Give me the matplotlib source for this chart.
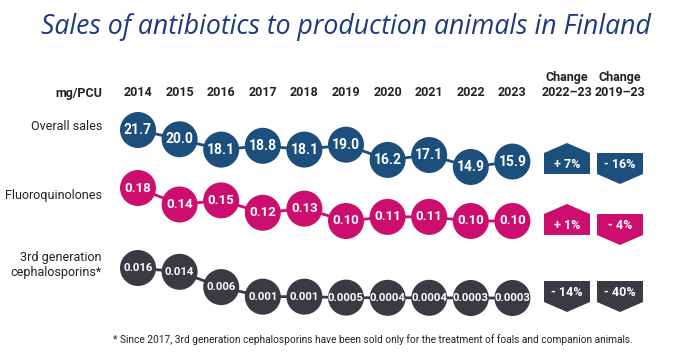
import matplotlib
matplotlib.use("Agg")
import matplotlib.pyplot as plt
from matplotlib.patches import Circle, Polygon

years = [2014, 2015, 2016, 2017, 2018, 2019, 2020, 2021, 2022, 2023]
overall = [21.7, 20.0, 18.1, 18.8, 18.1, 19.0, 16.2, 17.1, 14.9, 15.9]
fluoro = [0.18, 0.14, 0.15, 0.12, 0.13, 0.10, 0.11, 0.11, 0.10, 0.10]
cephalo = [0.016, 0.014, 0.006, 0.001, 0.001, 0.0005, 0.0004, 0.0004, 0.0003, 0.0003]
change_22_23 = [7, 1, -14]
change_19_23 = [-16, -4, -40]
row_labels = ["Overall sales", "Fluoroquinolones", "3rd generation\ncephalosporins*"]
change_headers = ["Change\n2022\u201323", "Change\n2019\u201323"]

BLUE = "#1d4f7c"
PINK = "#cc0f6e"
DARK = "#3b3a43"
NARROW = ["Liberation Sans Narrow", "Roboto", "DejaVu Sans"]

fig = plt.figure(figsize=(6.8, 3.58), dpi=100)
ax = fig.add_axes([0, 0, 1, 1])
ax.set_xlim(0, 680)
ax.set_ylim(358, 0)
ax.axis("off")

ax.text(346, 27, "Sales of antibiotics to production animals in Finland",
        ha="center", va="center", fontsize=19.2, style="italic",
        family=["Open Sans", "DejaVu Sans"], color="#1c3a7c")

# column layout
x0, dx = 138, 41.6
xs = [x0 + i * dx for i in range(len(years))]
xc = [567, 620]

ax.text(102, 93, "mg/PCU", ha="right", va="center", fontsize=9,
        fontweight="bold", family=NARROW, color="#222222")
for x, yr in zip(xs, years):
    ax.text(x, 93, str(yr), ha="center", va="center", fontsize=9,
            fontweight="bold", family=NARROW, color="#222222")
for x, h in zip(xc, change_headers):
    ax.text(x, 85, h, ha="center", va="center", fontsize=9,
            fontweight="bold", family=NARROW, color="#222222", linespacing=1.25)

rows = [
    (overall, "{:.1f}", BLUE, 130, 37, 127, 153, 10),
    (fluoro, "{:.2f}", PINK, 188, 33, 195, 214, 9.5),
    (cephalo, "{:g}", DARK, 268, 30, 265, 281, 8.2),
]

r = 18
for i, (vals, fmt, col, ytop, span, ylab, boxtop, fs) in enumerate(rows):
    vmax, vmin = max(vals), min(vals)
    ys = [ytop + (vmax - v) / (vmax - vmin) * span for v in vals]
    ax.plot(xs, ys, color=col, lw=2, zorder=1, solid_capstyle="butt")
    for x, y, v in zip(xs, ys, vals):
        ax.add_patch(Circle((x, y), r, facecolor=col, edgecolor="none", zorder=2))
        ax.text(x, y, fmt.format(v), ha="center", va="center", color="white",
                fontsize=fs, fontweight="bold", family=NARROW, zorder=3)
    ax.text(102, ylab, row_labels[i], ha="right", va="center", fontsize=9,
            family=NARROW, color="#222222", linespacing=1.15)

    # change boxes
    for x, c in zip(xc, [change_22_23[i], change_19_23[i]]):
        hw, h, tip = 23, 21, 10
        top, bot = boxtop, boxtop + h
        if c > 0:
            pts = [(x - hw, bot), (x - hw, top), (x, top - tip), (x + hw, top), (x + hw, bot)]
        else:
            pts = [(x - hw, top), (x + hw, top), (x + hw, bot), (x, bot + tip), (x - hw, bot)]
        ax.add_patch(Polygon(pts, closed=True, facecolor=col, edgecolor="none", zorder=2))
        sign = "+" if c > 0 else "-"
        ax.text(x, (top + bot) / 2 + 1, f"{sign} {abs(c)}%", ha="center", va="center",
                color="white", fontsize=9, fontweight="bold", family=NARROW, zorder=3)

ax.text(373, 340, "* Since 2017, 3rd generation cephalosporins have been sold only for the "
        "treatment of foals and companion animals.", ha="center", va="center",
        fontsize=7.3, family=NARROW, color="#222222")

fig.savefig("out.png", dpi=100)
